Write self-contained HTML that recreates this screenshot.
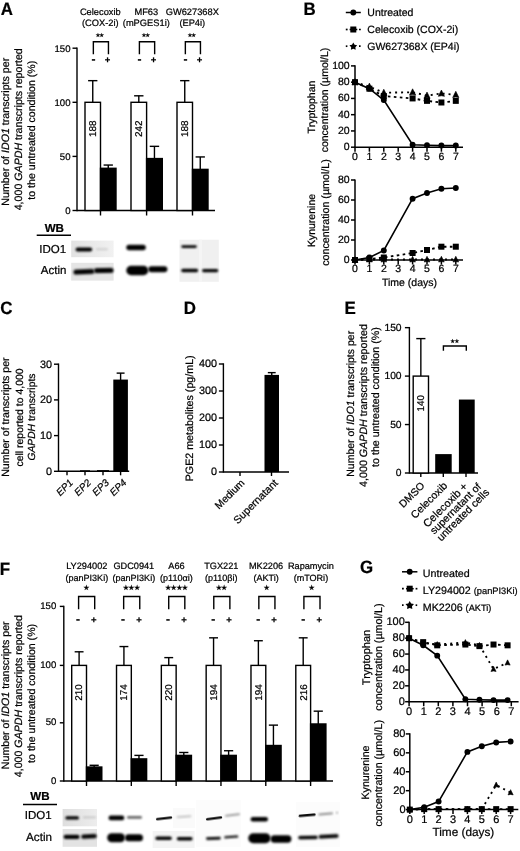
<!DOCTYPE html>
<html lang="en"><head><meta charset="utf-8"><title>Figure</title>
<style>
html,body{margin:0;padding:0;background:#fff;}
body{width:520px;height:851px;overflow:hidden;}
svg{display:block;font-family:'Liberation Sans', sans-serif;}
text{stroke:#000;stroke-width:0.22px;}
</style></head><body>
<svg width="520" height="851" viewBox="0 0 520 851" text-rendering="geometricPrecision">
<defs>
<filter id="bB" x="-20%" y="-100%" width="140%" height="300%"><feGaussianBlur stdDeviation="0.8"/></filter>
<filter id="bA" x="-20%" y="-100%" width="140%" height="300%"><feGaussianBlur stdDeviation="0.55"/></filter>
<filter id="bC" x="-20%" y="-100%" width="140%" height="300%"><feGaussianBlur stdDeviation="1.1"/></filter>
<linearGradient id="gLY" x1="0" x2="1" y1="0" y2="0"><stop offset="0" stop-color="#dedede"/><stop offset="1" stop-color="#ededed"/></linearGradient>
<linearGradient id="gA1" x1="0" x2="1" y1="0" y2="0"><stop offset="0" stop-color="#e2e2e2"/><stop offset="1" stop-color="#f1f1f1"/></linearGradient>
</defs>
<rect width="520" height="851" fill="#fff"/>
<g id="blots">
<rect x="71.2" y="240.6" width="42.4" height="16.6" fill="url(#gA1)"/>
<rect x="71.2" y="262.8" width="42.4" height="17.8" fill="#e5e5e5" />
<rect x="75.6" y="247.4" width="16.60000000000001" height="4.2" rx="2.1" fill="#000" opacity="1" filter="url(#bB)"/>
<rect x="96" y="248.2" width="12" height="2" rx="1.0" fill="#000" opacity="0.13" filter="url(#bB)"/>
<rect x="73.4" y="269.3" width="21.0" height="5" rx="2.5" fill="#000" opacity="1" filter="url(#bB)" transform="rotate(-2.5 83.9 271.8)"/>
<rect x="94" y="268.1" width="19.599999999999994" height="5" rx="2.5" fill="#000" opacity="1" filter="url(#bB)" transform="rotate(-1 103.8 270.6)"/>
<rect x="126.3" y="244.8" width="19.500000000000014" height="5.4" rx="2.7" fill="#000" opacity="1" filter="url(#bB)"/>
<rect x="126.3" y="265.8" width="22.000000000000014" height="9.4" rx="4.7" fill="#000" opacity="1" filter="url(#bC)"/>
<rect x="148.3" y="266.3" width="19.099999999999994" height="6" rx="3.0" fill="#000" opacity="1" filter="url(#bB)"/>
<rect x="179.5" y="239.7" width="39.3" height="42.1" fill="#f0f0f0" />
<rect x="199" y="239.7" width="3" height="42.1" fill="#f5f5f5" />
<rect x="181.3" y="245.2" width="15.5" height="2.8" rx="1.4" fill="#000" opacity="1" filter="url(#bB)"/>
<rect x="181.2" y="268.8" width="17.0" height="3.4" rx="1.7" fill="#000" opacity="1" filter="url(#bB)"/>
<rect x="202" y="268.90000000000003" width="16.30000000000001" height="3.4" rx="1.7" fill="#000" opacity="1" filter="url(#bB)"/>
<rect x="62.6" y="809" width="34.4" height="17.3" fill="url(#gLY)"/>
<rect x="62.6" y="829" width="34.4" height="17.8" fill="#e3e3e3" />
<rect x="65.4" y="816.3" width="13.599999999999994" height="3.2" rx="1.6" fill="#000" opacity="1" filter="url(#bB)"/>
<rect x="83" y="816.5" width="13" height="1.8" rx="0.9" fill="#000" opacity="0.16" filter="url(#bB)"/>
<rect x="63.6" y="834.8" width="15.999999999999993" height="4.2" rx="2.1" fill="#000" opacity="1" filter="url(#bB)"/>
<rect x="81.2" y="834.3" width="15.599999999999994" height="4.2" rx="2.1" fill="#000" opacity="1" filter="url(#bB)" transform="rotate(-3 89.0 836.4)"/>
<rect x="108.5" y="815.6" width="15.799999999999997" height="4.6" rx="2.3" fill="#000" opacity="1" filter="url(#bB)"/>
<rect x="127" y="816.1" width="15" height="2.6" rx="1.3" fill="#000" opacity="0.6" filter="url(#bB)"/>
<rect x="107.2" y="833.3" width="17.799999999999997" height="9" rx="4.5" fill="#000" opacity="1" filter="url(#bC)"/>
<rect x="125" y="834.3" width="18" height="7" rx="3.5" fill="#000" opacity="1" filter="url(#bC)"/>
<rect x="152.6" y="831" width="42" height="17" fill="#f4f4f4" />
<rect x="173" y="808" width="22" height="20" fill="#fafafa" />
<rect x="156" y="817.25" width="16.19999999999999" height="2.3" rx="1.15" fill="#000" opacity="1" filter="url(#bA)" transform="rotate(-6.5 164.1 818.4)"/>
<rect x="176.5" y="815.8000000000001" width="15.0" height="1.6" rx="0.8" fill="#000" opacity="0.25" filter="url(#bB)" transform="rotate(-4 184.0 816.6)"/>
<rect x="155.4" y="836.5" width="16.400000000000006" height="3.4" rx="1.7" fill="#000" opacity="1" filter="url(#bB)"/>
<rect x="176.8" y="837.0" width="15.799999999999983" height="3.4" rx="1.7" fill="#000" opacity="1" filter="url(#bB)"/>
<rect x="196" y="800" width="45" height="47" fill="#fcfcfc" />
<rect x="206" y="817.3" width="16.19999999999999" height="2.2" rx="1.1" fill="#000" opacity="1" filter="url(#bA)" transform="rotate(-7.5 214.1 818.4)"/>
<rect x="225" y="814.25" width="15" height="1.5" rx="0.75" fill="#000" opacity="0.5" filter="url(#bB)" transform="rotate(-7 232.5 815)"/>
<rect x="206" y="836.9" width="14.800000000000011" height="2.8" rx="1.4" fill="#000" opacity="1" filter="url(#bB)" transform="rotate(-2 213.4 838.3)"/>
<rect x="224.2" y="835.6999999999999" width="14.100000000000023" height="2.4" rx="1.2" fill="#000" opacity="0.95" filter="url(#bB)" transform="rotate(-4 231.25 836.9)"/>
<rect x="250.6" y="817.0999999999999" width="17.400000000000006" height="4.4" rx="2.2" fill="#000" opacity="1" filter="url(#bB)"/>
<rect x="248.3" y="833.3" width="22.30000000000001" height="10" rx="5.0" fill="#000" opacity="1" filter="url(#bC)"/>
<rect x="270.6" y="835.3" width="20.799999999999955" height="7.4" rx="3.7" fill="#000" opacity="1" filter="url(#bC)"/>
<rect x="296" y="802" width="44" height="45" fill="#fcfcfc" />
<rect x="298.7" y="814.0999999999999" width="16.900000000000034" height="2.4" rx="1.2" fill="#000" opacity="0.95" filter="url(#bA)" transform="rotate(-5 307.15 815.3)"/>
<rect x="318.3" y="812.9499999999999" width="14.699999999999989" height="1.7" rx="0.85" fill="#000" opacity="0.5" filter="url(#bB)" transform="rotate(-5 325.65 813.8)"/>
<rect x="336" y="812.0" width="2" height="1.6" rx="0.8" fill="#000" opacity="0.5" filter="url(#bB)"/>
<rect x="298.2" y="835.7" width="19.600000000000023" height="3.6" rx="1.8" fill="#000" opacity="1" filter="url(#bB)" transform="rotate(-1 308.0 837.5)"/>
<rect x="318.6" y="834.6" width="20.0" height="3.6" rx="1.8" fill="#000" opacity="1" filter="url(#bB)" transform="rotate(-3 328.6 836.4)"/>
</g>
<g id="plots" fill="#000">
<text transform="translate(0.7 14.7) scale(1 1.06)" font-size="16.9" font-weight="bold" stroke-width="0">A</text>
<line x1="77" y1="47.499999999999986" x2="77" y2="211.2" stroke="#000" stroke-width="1.4"/>
<line x1="77" y1="210.5" x2="215" y2="210.5" stroke="#000" stroke-width="1.4"/>
<line x1="72.5" y1="210.5" x2="77" y2="210.5" stroke="#000" stroke-width="1.4"/>
<text x="70.5" y="213.8" font-size="9.6" text-anchor="end">0</text>
<line x1="72.5" y1="156.4" x2="77" y2="156.4" stroke="#000" stroke-width="1.4"/>
<text x="70.5" y="159.70000000000002" font-size="9.6" text-anchor="end">50</text>
<line x1="72.5" y1="102.3" x2="77" y2="102.3" stroke="#000" stroke-width="1.4"/>
<text x="70.5" y="105.6" font-size="9.6" text-anchor="end">100</text>
<line x1="72.5" y1="48.19999999999999" x2="77" y2="48.19999999999999" stroke="#000" stroke-width="1.4"/>
<text x="70.5" y="51.499999999999986" font-size="9.6" text-anchor="end">150</text>
<line x1="92.75" y1="80.66" x2="92.75" y2="102.3" stroke="#000" stroke-width="1.4"/>
<line x1="88.1" y1="80.66" x2="97.4" y2="80.66" stroke="#000" stroke-width="1.4"/>
<rect x="85" y="102.3" width="15.5" height="108.2" fill="#fff" stroke="#000" stroke-width="1.4" />
<line x1="108.25" y1="165.05599999999998" x2="108.25" y2="168.302" stroke="#000" stroke-width="1.4"/>
<line x1="103.6" y1="165.05599999999998" x2="112.9" y2="165.05599999999998" stroke="#000" stroke-width="1.4"/>
<rect x="99.8" y="167.602" width="16.9" height="42.89800000000001" fill="#000" />
<line x1="100.5" y1="210.5" x2="100.5" y2="215.5" stroke="#000" stroke-width="1.4"/>
<text x="96.15" y="128.7" font-size="9.9" text-anchor="middle" transform="rotate(-90 96.15 128.7)">188</text>
<path d="M93.35 54.3V41.7H108.45V54.3" fill="none" stroke="#000" stroke-width="1.4"/>
<text x="93.45" y="63.3" font-size="12" text-anchor="middle" font-weight="bold">-</text>
<text x="107.45" y="63" font-size="9.5" text-anchor="middle" font-weight="bold">+</text>
<text x="99.8" y="36.58" font-size="5.5" text-anchor="middle" font-family="'DejaVu Sans', sans-serif" textLength="8.8" lengthAdjust="spacing">★★</text>
<text x="100.3" y="15" font-size="9.3" text-anchor="middle">Celecoxib</text>
<text x="100.3" y="26.2" font-size="9.3" text-anchor="middle">(COX-2i)</text>
<line x1="138.8" y1="95.80799999999999" x2="138.8" y2="102.3" stroke="#000" stroke-width="1.4"/>
<line x1="134.12" y1="95.80799999999999" x2="143.48000000000002" y2="95.80799999999999" stroke="#000" stroke-width="1.4"/>
<rect x="131" y="102.3" width="15.599999999999994" height="108.2" fill="#fff" stroke="#000" stroke-width="1.4" />
<line x1="154.45" y1="146.3374" x2="154.45" y2="158.564" stroke="#000" stroke-width="1.4"/>
<line x1="149.73999999999998" y1="146.3374" x2="159.16" y2="146.3374" stroke="#000" stroke-width="1.4"/>
<rect x="145.9" y="157.864" width="17.100000000000016" height="52.63600000000001" fill="#000" />
<line x1="146.6" y1="210.5" x2="146.6" y2="215.5" stroke="#000" stroke-width="1.4"/>
<text x="142.20000000000002" y="128.7" font-size="9.9" text-anchor="middle" transform="rotate(-90 142.20000000000002 128.7)">242</text>
<path d="M139.4 54.3V41.7H154.64999999999998V54.3" fill="none" stroke="#000" stroke-width="1.4"/>
<text x="139.5" y="63.3" font-size="12" text-anchor="middle" font-weight="bold">-</text>
<text x="153.64999999999998" y="63" font-size="9.5" text-anchor="middle" font-weight="bold">+</text>
<text x="145.9" y="36.58" font-size="5.5" text-anchor="middle" font-family="'DejaVu Sans', sans-serif" textLength="8.8" lengthAdjust="spacing">★★</text>
<text x="146.3" y="15" font-size="9.3" text-anchor="middle">MF63</text>
<text x="146.3" y="26.2" font-size="9.3" text-anchor="middle">(mPGES1i)</text>
<line x1="184.75" y1="80.66" x2="184.75" y2="102.3" stroke="#000" stroke-width="1.4"/>
<line x1="180.1" y1="80.66" x2="189.4" y2="80.66" stroke="#000" stroke-width="1.4"/>
<rect x="177" y="102.3" width="15.5" height="108.2" fill="#fff" stroke="#000" stroke-width="1.4" />
<line x1="200.25" y1="156.941" x2="200.25" y2="169.38400000000001" stroke="#000" stroke-width="1.4"/>
<line x1="195.6" y1="156.941" x2="204.9" y2="156.941" stroke="#000" stroke-width="1.4"/>
<rect x="191.8" y="168.68400000000003" width="16.9" height="41.81599999999999" fill="#000" />
<line x1="192.5" y1="210.5" x2="192.5" y2="215.5" stroke="#000" stroke-width="1.4"/>
<text x="188.15" y="128.7" font-size="9.9" text-anchor="middle" transform="rotate(-90 188.15 128.7)">188</text>
<path d="M185.35 54.3V41.7H200.45V54.3" fill="none" stroke="#000" stroke-width="1.4"/>
<text x="185.45" y="63.3" font-size="12" text-anchor="middle" font-weight="bold">-</text>
<text x="199.45" y="63" font-size="9.5" text-anchor="middle" font-weight="bold">+</text>
<text x="191.8" y="36.58" font-size="5.5" text-anchor="middle" font-family="'DejaVu Sans', sans-serif" textLength="8.8" lengthAdjust="spacing">★★</text>
<text x="192.3" y="15" font-size="9.3" text-anchor="middle">GW627368X</text>
<text x="192.3" y="26.2" font-size="9.3" text-anchor="middle">(EP4i)</text>
<text x="9.3" y="131.7" font-size="10.65" text-anchor="middle" transform="rotate(-90 9.3 131.7)">Number of <tspan font-style="italic">IDO1</tspan> transcripts per</text>
<text x="22" y="129.3" font-size="10.65" text-anchor="middle" transform="rotate(-90 22 129.3)">4,000 <tspan font-style="italic">GAPDH</tspan> transcripts reported</text>
<text x="34.8" y="130.2" font-size="10.6" text-anchor="middle" transform="rotate(-90 34.8 130.2)">to the untreated condition (%)</text>
<text x="54.3" y="231.8" font-size="11.6" text-anchor="middle" font-weight="bold">WB</text>
<line x1="36.7" y1="235.2" x2="71" y2="235.2" stroke="#000" stroke-width="1.5"/>
<text x="39.3" y="252.6" font-size="11.5">IDO1</text>
<text x="40.8" y="274.2" font-size="11.5">Actin</text>
<text transform="translate(303.6 14.7) scale(1 1.06)" font-size="16.9" font-weight="bold" stroke-width="0">B</text>
<line x1="345.8" y1="12.5" x2="360.8" y2="12.5" stroke="#000" stroke-width="1.5"/>
<circle cx="353.3" cy="12.5" r="2.95" fill="#000"/>
<text x="367.3" y="16.3" font-size="10.5">Untreated</text>
<line x1="345.8" y1="29.5" x2="347.6" y2="29.5" stroke="#000" stroke-width="1.7"/>
<line x1="359.0" y1="29.5" x2="360.8" y2="29.5" stroke="#000" stroke-width="1.7"/>
<line x1="349.6" y1="29.5" x2="357.3" y2="29.5" stroke="#000" stroke-width="1.5"/>
<rect x="350.3" y="26.5" width="6.0" height="6.0" fill="#000"/>
<text x="367.3" y="33.2" font-size="10.55">Celecoxib (COX-2i)</text>
<line x1="345.8" y1="46.2" x2="347.40000000000003" y2="46.2" stroke="#000" stroke-width="1.7"/>
<line x1="359.0" y1="46.2" x2="360.6" y2="46.2" stroke="#000" stroke-width="1.7"/>
<path d="M353.30 42.44L354.59 44.73L357.16 45.25L355.39 47.18L355.69 49.78L353.30 48.69L350.91 49.78L351.21 47.18L349.44 45.25L352.01 44.73Z" fill="#000"/>
<text x="367.3" y="49.8" font-size="10.5">GW627368X (EP4i)</text>
<line x1="355" y1="65.3" x2="355" y2="147.79999999999998" stroke="#000" stroke-width="1.5"/>
<line x1="354.5" y1="147.2" x2="463" y2="147.2" stroke="#000" stroke-width="1.5"/>
<line x1="351" y1="147.2" x2="355" y2="147.2" stroke="#000" stroke-width="1.5"/>
<text x="349.7" y="150.07999999999998" font-size="10.5" text-anchor="end">0</text>
<line x1="351" y1="130.94" x2="355" y2="130.94" stroke="#000" stroke-width="1.5"/>
<text x="349.7" y="133.82" font-size="10.5" text-anchor="end">20</text>
<line x1="351" y1="114.67999999999999" x2="355" y2="114.67999999999999" stroke="#000" stroke-width="1.5"/>
<text x="349.7" y="117.55999999999999" font-size="10.5" text-anchor="end">40</text>
<line x1="351" y1="98.41999999999999" x2="355" y2="98.41999999999999" stroke="#000" stroke-width="1.5"/>
<text x="349.7" y="101.29999999999998" font-size="10.5" text-anchor="end">60</text>
<line x1="351" y1="82.16" x2="355" y2="82.16" stroke="#000" stroke-width="1.5"/>
<text x="349.7" y="85.03999999999999" font-size="10.5" text-anchor="end">80</text>
<line x1="351" y1="65.89999999999999" x2="355" y2="65.89999999999999" stroke="#000" stroke-width="1.5"/>
<text x="349.7" y="68.77999999999999" font-size="10.5" text-anchor="end">100</text>
<line x1="355.0" y1="147.2" x2="355.0" y2="151.7" stroke="#000" stroke-width="1.5"/>
<text x="355.0" y="160.325" font-size="10.5" text-anchor="middle">0</text>
<line x1="369.4" y1="147.2" x2="369.4" y2="151.7" stroke="#000" stroke-width="1.5"/>
<text x="369.4" y="160.325" font-size="10.5" text-anchor="middle">1</text>
<line x1="383.8" y1="147.2" x2="383.8" y2="151.7" stroke="#000" stroke-width="1.5"/>
<text x="383.8" y="160.325" font-size="10.5" text-anchor="middle">2</text>
<line x1="398.2" y1="147.2" x2="398.2" y2="151.7" stroke="#000" stroke-width="1.5"/>
<text x="398.2" y="160.325" font-size="10.5" text-anchor="middle">3</text>
<line x1="412.6" y1="147.2" x2="412.6" y2="151.7" stroke="#000" stroke-width="1.5"/>
<text x="412.6" y="160.325" font-size="10.5" text-anchor="middle">4</text>
<line x1="427.0" y1="147.2" x2="427.0" y2="151.7" stroke="#000" stroke-width="1.5"/>
<text x="427.0" y="160.325" font-size="10.5" text-anchor="middle">5</text>
<line x1="441.4" y1="147.2" x2="441.4" y2="151.7" stroke="#000" stroke-width="1.5"/>
<text x="441.4" y="160.325" font-size="10.5" text-anchor="middle">6</text>
<line x1="455.8" y1="147.2" x2="455.8" y2="151.7" stroke="#000" stroke-width="1.5"/>
<text x="455.8" y="160.325" font-size="10.5" text-anchor="middle">7</text>
<path d="M355.0 82.2 L369.4 88.7 L383.8 100.0 L412.6 144.8 L427.0 145.2 L441.4 145.6 L455.8 145.6" fill="none" stroke="#000" stroke-width="1.6"/>
<circle cx="355.0" cy="82.16" r="2.95" fill="#000"/>
<circle cx="369.4" cy="88.66399999999999" r="2.95" fill="#000"/>
<circle cx="383.8" cy="100.04599999999999" r="2.95" fill="#000"/>
<circle cx="412.6" cy="144.761" r="2.95" fill="#000"/>
<circle cx="427.0" cy="145.1675" r="2.95" fill="#000"/>
<circle cx="441.4" cy="145.57399999999998" r="2.95" fill="#000"/>
<circle cx="455.8" cy="145.57399999999998" r="2.95" fill="#000"/>
<path d="M355.0 82.2 L369.4 86.6 L383.8 92.7 L412.6 92.3 L427.0 95.6 L441.4 93.5 L455.8 94.8" fill="none" stroke="#000" stroke-width="1.85" stroke-dasharray="2 4"/>
<path d="M355.00 78.65L358.10 84.93L355.00 84.36L351.90 84.93Z" fill="#000" stroke="#000" stroke-width="0.6" stroke-linejoin="round"/>
<path d="M369.40 83.12L372.50 89.41L369.40 88.83L366.30 89.41Z" fill="#000" stroke="#000" stroke-width="0.6" stroke-linejoin="round"/>
<path d="M383.80 89.22L386.90 95.50L383.80 94.93L380.70 95.50Z" fill="#000" stroke="#000" stroke-width="0.6" stroke-linejoin="round"/>
<path d="M412.60 88.81L415.70 95.10L412.60 94.53L409.50 95.10Z" fill="#000" stroke="#000" stroke-width="0.6" stroke-linejoin="round"/>
<path d="M427.00 92.07L430.10 98.35L427.00 97.78L423.90 98.35Z" fill="#000" stroke="#000" stroke-width="0.6" stroke-linejoin="round"/>
<path d="M441.40 90.03L444.50 96.32L441.40 95.75L438.30 96.32Z" fill="#000" stroke="#000" stroke-width="0.6" stroke-linejoin="round"/>
<path d="M455.80 91.25L458.90 97.54L455.80 96.96L452.70 97.54Z" fill="#000" stroke="#000" stroke-width="0.6" stroke-linejoin="round"/>
<path d="M355.0 82.2 L369.4 88.7 L383.8 96.0 L412.6 98.4 L427.0 100.9 L441.4 102.5 L455.8 100.9" fill="none" stroke="#000" stroke-width="1.85" stroke-dasharray="2.6 3.4"/>
<rect x="352.0" y="79.16" width="6.0" height="6.0" fill="#000"/>
<rect x="366.4" y="85.66399999999999" width="6.0" height="6.0" fill="#000"/>
<rect x="380.8" y="92.981" width="6.0" height="6.0" fill="#000"/>
<rect x="409.6" y="95.41999999999999" width="6.0" height="6.0" fill="#000"/>
<rect x="424.0" y="97.859" width="6.0" height="6.0" fill="#000"/>
<rect x="438.4" y="99.48499999999999" width="6.0" height="6.0" fill="#000"/>
<rect x="452.8" y="97.859" width="6.0" height="6.0" fill="#000"/>
<line x1="355" y1="179.4" x2="355" y2="260.6" stroke="#000" stroke-width="1.5"/>
<line x1="354.5" y1="260" x2="463" y2="260" stroke="#000" stroke-width="1.5"/>
<line x1="351" y1="260.0" x2="355" y2="260.0" stroke="#000" stroke-width="1.5"/>
<text x="349.7" y="262.88" font-size="10.5" text-anchor="end">0</text>
<line x1="351" y1="240.0" x2="355" y2="240.0" stroke="#000" stroke-width="1.5"/>
<text x="349.7" y="242.88" font-size="10.5" text-anchor="end">20</text>
<line x1="351" y1="220.0" x2="355" y2="220.0" stroke="#000" stroke-width="1.5"/>
<text x="349.7" y="222.88" font-size="10.5" text-anchor="end">40</text>
<line x1="351" y1="200.0" x2="355" y2="200.0" stroke="#000" stroke-width="1.5"/>
<text x="349.7" y="202.88" font-size="10.5" text-anchor="end">60</text>
<line x1="351" y1="180.0" x2="355" y2="180.0" stroke="#000" stroke-width="1.5"/>
<text x="349.7" y="182.88" font-size="10.5" text-anchor="end">80</text>
<line x1="355.0" y1="260" x2="355.0" y2="264.5" stroke="#000" stroke-width="1.5"/>
<text x="355.0" y="272.4" font-size="10.5" text-anchor="middle">0</text>
<line x1="369.4" y1="260" x2="369.4" y2="264.5" stroke="#000" stroke-width="1.5"/>
<text x="369.4" y="272.4" font-size="10.5" text-anchor="middle">1</text>
<line x1="383.8" y1="260" x2="383.8" y2="264.5" stroke="#000" stroke-width="1.5"/>
<text x="383.8" y="272.4" font-size="10.5" text-anchor="middle">2</text>
<line x1="398.2" y1="260" x2="398.2" y2="264.5" stroke="#000" stroke-width="1.5"/>
<text x="398.2" y="272.4" font-size="10.5" text-anchor="middle">3</text>
<line x1="412.6" y1="260" x2="412.6" y2="264.5" stroke="#000" stroke-width="1.5"/>
<text x="412.6" y="272.4" font-size="10.5" text-anchor="middle">4</text>
<line x1="427.0" y1="260" x2="427.0" y2="264.5" stroke="#000" stroke-width="1.5"/>
<text x="427.0" y="272.4" font-size="10.5" text-anchor="middle">5</text>
<line x1="441.4" y1="260" x2="441.4" y2="264.5" stroke="#000" stroke-width="1.5"/>
<text x="441.4" y="272.4" font-size="10.5" text-anchor="middle">6</text>
<line x1="455.8" y1="260" x2="455.8" y2="264.5" stroke="#000" stroke-width="1.5"/>
<text x="455.8" y="272.4" font-size="10.5" text-anchor="middle">7</text>
<path d="M355.0 260.0 L369.4 257.5 L383.8 250.5 L412.6 198.7 L427.0 193.0 L441.4 188.7 L455.8 188.0" fill="none" stroke="#000" stroke-width="1.6"/>
<circle cx="355.0" cy="260.0" r="2.95" fill="#000"/>
<circle cx="369.4" cy="257.5" r="2.95" fill="#000"/>
<circle cx="383.8" cy="250.5" r="2.95" fill="#000"/>
<circle cx="412.6" cy="198.7" r="2.95" fill="#000"/>
<circle cx="427.0" cy="193.0" r="2.95" fill="#000"/>
<circle cx="441.4" cy="188.7" r="2.95" fill="#000"/>
<circle cx="455.8" cy="188.0" r="2.95" fill="#000"/>
<path d="M355.0 260.0 L369.4 259.5 L383.8 259.5 L412.6 259.5 L427.0 259.5 L441.4 259.5 L455.8 259.5" fill="none" stroke="#000" stroke-width="1.85" stroke-dasharray="2 4"/>
<path d="M355.00 256.78L357.84 262.54L355.00 262.02L352.16 262.54Z" fill="#000" stroke="#000" stroke-width="0.6" stroke-linejoin="round"/>
<path d="M369.40 256.28L372.24 262.04L369.40 261.52L366.56 262.04Z" fill="#000" stroke="#000" stroke-width="0.6" stroke-linejoin="round"/>
<path d="M383.80 256.28L386.64 262.04L383.80 261.52L380.96 262.04Z" fill="#000" stroke="#000" stroke-width="0.6" stroke-linejoin="round"/>
<path d="M412.60 256.28L415.44 262.04L412.60 261.52L409.76 262.04Z" fill="#000" stroke="#000" stroke-width="0.6" stroke-linejoin="round"/>
<path d="M427.00 256.28L429.84 262.04L427.00 261.52L424.16 262.04Z" fill="#000" stroke="#000" stroke-width="0.6" stroke-linejoin="round"/>
<path d="M441.40 256.28L444.24 262.04L441.40 261.52L438.56 262.04Z" fill="#000" stroke="#000" stroke-width="0.6" stroke-linejoin="round"/>
<path d="M455.80 256.28L458.64 262.04L455.80 261.52L452.96 262.04Z" fill="#000" stroke="#000" stroke-width="0.6" stroke-linejoin="round"/>
<path d="M355.0 260.0 L369.4 259.0 L383.8 257.5 L412.6 253.0 L427.0 250.0 L441.4 246.7 L455.8 246.7" fill="none" stroke="#000" stroke-width="1.85" stroke-dasharray="2.6 3.4"/>
<rect x="352.0" y="257.0" width="6.0" height="6.0" fill="#000"/>
<rect x="366.4" y="256.0" width="6.0" height="6.0" fill="#000"/>
<rect x="380.8" y="254.5" width="6.0" height="6.0" fill="#000"/>
<rect x="409.6" y="250.0" width="6.0" height="6.0" fill="#000"/>
<rect x="424.0" y="247.0" width="6.0" height="6.0" fill="#000"/>
<rect x="438.4" y="243.7" width="6.0" height="6.0" fill="#000"/>
<rect x="452.8" y="243.7" width="6.0" height="6.0" fill="#000"/>
<text x="409.5" y="285.7" font-size="10.5" text-anchor="middle">Time (days)</text>
<text x="315.3" y="107" font-size="10.5" text-anchor="middle" transform="rotate(-90 315.3 107)">Tryptophan</text>
<text x="328.4" y="100" font-size="10.5" text-anchor="middle" transform="rotate(-90 328.4 100)">concentration (µmol/L)</text>
<text x="315.3" y="220.5" font-size="10.5" text-anchor="middle" transform="rotate(-90 315.3 220.5)">Kynurenine</text>
<text x="329" y="212.5" font-size="10.7" text-anchor="middle" transform="rotate(-90 329 212.5)">concentration (µmol/L)</text>
<text transform="translate(0.3 313.5) scale(1 1.06)" font-size="16.9" font-weight="bold" stroke-width="0">C</text>
<line x1="58.5" y1="363.50000000000006" x2="58.5" y2="472.0" stroke="#000" stroke-width="1.4"/>
<line x1="58.5" y1="471.3" x2="129.2" y2="471.3" stroke="#000" stroke-width="1.4"/>
<line x1="54.0" y1="471.3" x2="58.5" y2="471.3" stroke="#000" stroke-width="1.4"/>
<text x="52.0" y="474.6" font-size="10.8" text-anchor="end">0</text>
<line x1="54.0" y1="435.6" x2="58.5" y2="435.6" stroke="#000" stroke-width="1.4"/>
<text x="52.0" y="438.90000000000003" font-size="10.8" text-anchor="end">10</text>
<line x1="54.0" y1="399.90000000000003" x2="58.5" y2="399.90000000000003" stroke="#000" stroke-width="1.4"/>
<text x="52.0" y="403.20000000000005" font-size="10.8" text-anchor="end">20</text>
<line x1="54.0" y1="364.20000000000005" x2="58.5" y2="364.20000000000005" stroke="#000" stroke-width="1.4"/>
<text x="52.0" y="367.50000000000006" font-size="10.8" text-anchor="end">30</text>
<line x1="67" y1="471.3" x2="67" y2="475.3" stroke="#000" stroke-width="1.4"/>
<text x="73.6" y="483.2" font-size="10" text-anchor="end" font-style="italic" transform="rotate(-45 73.6 483.2)">EP1</text>
<line x1="85" y1="471.3" x2="85" y2="475.3" stroke="#000" stroke-width="1.4"/>
<text x="91.6" y="483.2" font-size="10" text-anchor="end" font-style="italic" transform="rotate(-45 91.6 483.2)">EP2</text>
<line x1="103" y1="471.3" x2="103" y2="475.3" stroke="#000" stroke-width="1.4"/>
<text x="109.6" y="483.2" font-size="10" text-anchor="end" font-style="italic" transform="rotate(-45 109.6 483.2)">EP3</text>
<line x1="120.6" y1="471.3" x2="120.6" y2="475.3" stroke="#000" stroke-width="1.4"/>
<text x="127.19999999999999" y="483.2" font-size="10" text-anchor="end" font-style="italic" transform="rotate(-45 127.19999999999999 483.2)">EP4</text>
<line x1="120.6" y1="373.125" x2="120.6" y2="380.265" stroke="#000" stroke-width="1.4"/>
<line x1="116.63999999999999" y1="373.125" x2="124.56" y2="373.125" stroke="#000" stroke-width="1.4"/>
<rect x="113.3" y="379.565" width="14.600000000000003" height="91.73500000000003" fill="#000" />
<rect x="80" y="470.3" width="10" height="1" fill="#000" />
<rect x="97" y="470.1" width="12" height="1.2" fill="#000" />
<text x="9.5" y="417.1" font-size="10.6" text-anchor="middle" transform="rotate(-90 9.5 417.1)">Number of transcripts per</text>
<text x="22.8" y="417.5" font-size="10.45" text-anchor="middle" transform="rotate(-90 22.8 417.5)">cell reported to 4,000</text>
<text x="34.9" y="417.1" font-size="10.3" text-anchor="middle" transform="rotate(-90 34.9 417.1)"><tspan font-style="italic">GAPDH</tspan> transcripts</text>
<text transform="translate(183.7 313.7) scale(1 1.06)" font-size="16.9" font-weight="bold" stroke-width="0">D</text>
<line x1="223.4" y1="363.3" x2="223.4" y2="472.7" stroke="#000" stroke-width="1.4"/>
<line x1="223.4" y1="472" x2="289" y2="472" stroke="#000" stroke-width="1.4"/>
<line x1="218.9" y1="472.0" x2="223.4" y2="472.0" stroke="#000" stroke-width="1.4"/>
<text x="216.9" y="475.3" font-size="10.8" text-anchor="end">0</text>
<line x1="218.9" y1="445.0" x2="223.4" y2="445.0" stroke="#000" stroke-width="1.4"/>
<text x="216.9" y="448.3" font-size="10.8" text-anchor="end">100</text>
<line x1="218.9" y1="418.0" x2="223.4" y2="418.0" stroke="#000" stroke-width="1.4"/>
<text x="216.9" y="421.3" font-size="10.8" text-anchor="end">200</text>
<line x1="218.9" y1="391.0" x2="223.4" y2="391.0" stroke="#000" stroke-width="1.4"/>
<text x="216.9" y="394.3" font-size="10.8" text-anchor="end">300</text>
<line x1="218.9" y1="364.0" x2="223.4" y2="364.0" stroke="#000" stroke-width="1.4"/>
<text x="216.9" y="367.3" font-size="10.8" text-anchor="end">400</text>
<line x1="240" y1="472" x2="240" y2="476" stroke="#000" stroke-width="1.4"/>
<text x="245.2" y="483.6" font-size="10.4" text-anchor="end" transform="rotate(-45 245.2 483.6)">Medium</text>
<line x1="271.5" y1="472" x2="271.5" y2="476" stroke="#000" stroke-width="1.4"/>
<text x="278.7" y="483.6" font-size="10.6" text-anchor="end" transform="rotate(-45 278.7 483.6)">Supernatant</text>
<line x1="271.75" y1="372.64" x2="271.75" y2="375.61" stroke="#000" stroke-width="1.4"/>
<line x1="267.82" y1="372.64" x2="275.68" y2="372.64" stroke="#000" stroke-width="1.4"/>
<rect x="264.5" y="374.91" width="14.500000000000023" height="97.08999999999999" fill="#000" />
<text x="193" y="418.3" font-size="10.7" text-anchor="middle" transform="rotate(-90 193 418.3)">PGE2 metabolites (pg/mL)</text>
<text transform="translate(344.5 313.8) scale(1 1.06)" font-size="16.9" font-weight="bold" stroke-width="0">E</text>
<line x1="409.4" y1="326.95" x2="409.4" y2="473.7" stroke="#000" stroke-width="1.4"/>
<line x1="409.4" y1="473" x2="478" y2="473" stroke="#000" stroke-width="1.4"/>
<line x1="404.9" y1="473.0" x2="409.4" y2="473.0" stroke="#000" stroke-width="1.4"/>
<text x="401.59999999999997" y="476.2" font-size="10.3" text-anchor="end">0</text>
<line x1="404.9" y1="424.55" x2="409.4" y2="424.55" stroke="#000" stroke-width="1.4"/>
<text x="401.59999999999997" y="427.75" font-size="10.3" text-anchor="end">50</text>
<line x1="404.9" y1="376.1" x2="409.4" y2="376.1" stroke="#000" stroke-width="1.4"/>
<text x="401.59999999999997" y="379.3" font-size="10.3" text-anchor="end">100</text>
<line x1="404.9" y1="327.65" x2="409.4" y2="327.65" stroke="#000" stroke-width="1.4"/>
<text x="401.59999999999997" y="330.84999999999997" font-size="10.3" text-anchor="end">150</text>
<line x1="420.85" y1="338.5997" x2="420.85" y2="376.1" stroke="#000" stroke-width="1.4"/>
<line x1="416.26" y1="338.5997" x2="425.44000000000005" y2="338.5997" stroke="#000" stroke-width="1.4"/>
<rect x="413.2" y="376.1" width="15.300000000000011" height="96.89999999999998" fill="#fff" stroke="#000" stroke-width="1.4" />
<text x="424.3" y="403.2" font-size="9.9" text-anchor="middle" transform="rotate(-90 424.3 403.2)">140</text>
<rect x="435.2" y="454.1045" width="16.5" height="18.895500000000027" fill="#000" />
<rect x="458.9" y="399.5498" width="15.8" height="73.4502" fill="#000" />
<path d="M443.4 350.8V346H466.3V350.8" fill="none" stroke="#000" stroke-width="1.4"/>
<text x="454.8" y="342.74" font-size="5.4" text-anchor="middle" font-family="'DejaVu Sans', sans-serif" textLength="9.2" lengthAdjust="spacing">★★</text>
<line x1="420.8" y1="473" x2="420.8" y2="477" stroke="#000" stroke-width="1.4"/>
<line x1="443.3" y1="473" x2="443.3" y2="477" stroke="#000" stroke-width="1.4"/>
<line x1="466" y1="473" x2="466" y2="477" stroke="#000" stroke-width="1.4"/>
<text x="425.3" y="486.3" font-size="10.4" text-anchor="end" transform="rotate(-45 425.3 486.3)">DMSO</text>
<text x="448" y="486.3" font-size="10.6" text-anchor="end" transform="rotate(-45 448 486.3)">Celecoxib</text>
<g transform="translate(468 480) rotate(-45)" font-size="11"><text x="-62.6" y="5.3">Celecoxib +</text><text x="-62.6" y="15" font-size="10.5">supernatant of</text><text x="-62.6" y="24.7" font-size="10.6">untreated cells</text></g>
<text x="353.7" y="403.8" font-size="10.5" text-anchor="middle" transform="rotate(-90 353.7 403.8)">Number of <tspan font-style="italic">IDO1</tspan> transcripts per</text>
<text x="367.1" y="405.5" font-size="10.7" text-anchor="middle" transform="rotate(-90 367.1 405.5)">4,000 <tspan font-style="italic">GAPDH</tspan> transcripts reported</text>
<text x="379.2" y="397.1" font-size="10.65" text-anchor="middle" transform="rotate(-90 379.2 397.1)">to the untreated condition (%)</text>
<text transform="translate(-0.2 574.9) scale(1 1.06)" font-size="16.9" font-weight="bold" stroke-width="0">F</text>
<line x1="63.8" y1="605.6999999999999" x2="63.8" y2="781.7" stroke="#000" stroke-width="1.4"/>
<line x1="63.8" y1="781.0" x2="333" y2="781.0" stroke="#000" stroke-width="1.4"/>
<line x1="59.8" y1="781.0" x2="63.8" y2="781.0" stroke="#000" stroke-width="1.4"/>
<text x="56.3" y="783.6" font-size="9.6" text-anchor="end">0</text>
<line x1="59.8" y1="722.8" x2="63.8" y2="722.8" stroke="#000" stroke-width="1.4"/>
<text x="56.3" y="725.4" font-size="9.6" text-anchor="end">50</text>
<line x1="59.8" y1="665.4" x2="63.8" y2="665.4" stroke="#000" stroke-width="1.4"/>
<text x="56.3" y="668.0" font-size="9.6" text-anchor="end">100</text>
<line x1="59.8" y1="606.4" x2="63.8" y2="606.4" stroke="#000" stroke-width="1.4"/>
<text x="56.3" y="609.0" font-size="9.6" text-anchor="end">150</text>
<line x1="79.1" y1="651.796" x2="79.1" y2="665.4" stroke="#000" stroke-width="1.4"/>
<line x1="74.66" y1="651.796" x2="83.53999999999999" y2="651.796" stroke="#000" stroke-width="1.4"/>
<rect x="71.7" y="665.4" width="14.799999999999997" height="115.60000000000002" fill="#fff" stroke="#000" stroke-width="1.4" />
<line x1="94.15" y1="765.2860000000001" x2="94.15" y2="767.032" stroke="#000" stroke-width="1.4"/>
<line x1="89.56" y1="765.2860000000001" x2="98.74000000000001" y2="765.2860000000001" stroke="#000" stroke-width="1.4"/>
<rect x="85.8" y="766.332" width="16.699999999999996" height="14.66799999999996" fill="#000" />
<line x1="86.5" y1="781.0" x2="86.5" y2="786.0" stroke="#000" stroke-width="1.4"/>
<text x="82.5" y="692.4" font-size="9.9" text-anchor="middle" transform="rotate(-90 82.5 692.4)">210</text>
<path d="M78.6 609.2V596.5H94.69999999999999V609.2" fill="none" stroke="#000" stroke-width="1.4"/>
<text x="78.0" y="623.3" font-size="12" text-anchor="middle" font-weight="bold">-</text>
<text x="93.89999999999999" y="623.2" font-size="9.5" text-anchor="middle" font-weight="bold">+</text>
<text x="86.39999999999999" y="590.12" font-size="7" text-anchor="middle" font-family="'DejaVu Sans', sans-serif" textLength="5.8" lengthAdjust="spacing">★</text>
<text x="86.8" y="568.7" font-size="9.2" text-anchor="middle">LY294002</text>
<text x="86.8" y="581.3" font-size="9.05" text-anchor="middle">(panPI3Ki)</text>
<line x1="123.92000000000002" y1="646.558" x2="123.92000000000002" y2="665.4" stroke="#000" stroke-width="1.4"/>
<line x1="119.48000000000002" y1="646.558" x2="128.36" y2="646.558" stroke="#000" stroke-width="1.4"/>
<rect x="116.52000000000001" y="665.4" width="14.800000000000011" height="115.60000000000002" fill="#fff" stroke="#000" stroke-width="1.4" />
<line x1="138.97000000000003" y1="755.392" x2="138.97000000000003" y2="758.884" stroke="#000" stroke-width="1.4"/>
<line x1="134.38000000000002" y1="755.392" x2="143.56000000000003" y2="755.392" stroke="#000" stroke-width="1.4"/>
<rect x="130.62000000000003" y="758.184" width="16.70000000000001" height="22.815999999999985" fill="#000" />
<line x1="131.32000000000002" y1="781.0" x2="131.32000000000002" y2="786.0" stroke="#000" stroke-width="1.4"/>
<text x="127.32000000000002" y="692.4" font-size="9.9" text-anchor="middle" transform="rotate(-90 127.32000000000002 692.4)">174</text>
<path d="M123.66 609.2V596.5H139.76V609.2" fill="none" stroke="#000" stroke-width="1.4"/>
<text x="123.06" y="623.3" font-size="12" text-anchor="middle" font-weight="bold">-</text>
<text x="138.96" y="623.2" font-size="9.5" text-anchor="middle" font-weight="bold">+</text>
<text x="131.46" y="590.12" font-size="7" text-anchor="middle" font-family="'DejaVu Sans', sans-serif" textLength="17.4" lengthAdjust="spacing">★★★</text>
<text x="133.82000000000002" y="568.7" font-size="9.2" text-anchor="middle">GDC0941</text>
<text x="133.82000000000002" y="581.3" font-size="9.05" text-anchor="middle">(panPI3Ki)</text>
<line x1="168.74" y1="657.616" x2="168.74" y2="665.4" stroke="#000" stroke-width="1.4"/>
<line x1="164.3" y1="657.616" x2="173.18" y2="657.616" stroke="#000" stroke-width="1.4"/>
<rect x="161.34" y="665.4" width="14.800000000000011" height="115.60000000000002" fill="#fff" stroke="#000" stroke-width="1.4" />
<line x1="183.79000000000002" y1="752.482" x2="183.79000000000002" y2="755.392" stroke="#000" stroke-width="1.4"/>
<line x1="179.20000000000002" y1="752.482" x2="188.38000000000002" y2="752.482" stroke="#000" stroke-width="1.4"/>
<rect x="175.44000000000003" y="754.692" width="16.70000000000001" height="26.307999999999947" fill="#000" />
<line x1="176.14000000000001" y1="781.0" x2="176.14000000000001" y2="786.0" stroke="#000" stroke-width="1.4"/>
<text x="172.14000000000001" y="692.4" font-size="9.9" text-anchor="middle" transform="rotate(-90 172.14000000000001 692.4)">220</text>
<path d="M168.72 609.2V596.5H184.82V609.2" fill="none" stroke="#000" stroke-width="1.4"/>
<text x="168.12" y="623.3" font-size="12" text-anchor="middle" font-weight="bold">-</text>
<text x="184.02" y="623.2" font-size="9.5" text-anchor="middle" font-weight="bold">+</text>
<text x="176.52" y="590.12" font-size="7" text-anchor="middle" font-family="'DejaVu Sans', sans-serif" textLength="23.2" lengthAdjust="spacing">★★★★</text>
<text x="176.44000000000003" y="568.7" font-size="9.2" text-anchor="middle">A66</text>
<text x="176.44000000000003" y="581.3" font-size="9.05" text-anchor="middle">(p110αi)</text>
<line x1="213.56000000000003" y1="637.828" x2="213.56000000000003" y2="665.4" stroke="#000" stroke-width="1.4"/>
<line x1="209.12000000000003" y1="637.828" x2="218.00000000000003" y2="637.828" stroke="#000" stroke-width="1.4"/>
<rect x="206.16000000000003" y="665.4" width="14.800000000000011" height="115.60000000000002" fill="#fff" stroke="#000" stroke-width="1.4" />
<line x1="228.61000000000004" y1="750.736" x2="228.61000000000004" y2="755.392" stroke="#000" stroke-width="1.4"/>
<line x1="224.02000000000004" y1="750.736" x2="233.20000000000005" y2="750.736" stroke="#000" stroke-width="1.4"/>
<rect x="220.26000000000005" y="754.692" width="16.70000000000001" height="26.307999999999947" fill="#000" />
<line x1="220.96000000000004" y1="781.0" x2="220.96000000000004" y2="786.0" stroke="#000" stroke-width="1.4"/>
<text x="216.96000000000004" y="692.4" font-size="9.9" text-anchor="middle" transform="rotate(-90 216.96000000000004 692.4)">194</text>
<path d="M213.78 609.2V596.5H229.88V609.2" fill="none" stroke="#000" stroke-width="1.4"/>
<text x="213.18" y="623.3" font-size="12" text-anchor="middle" font-weight="bold">-</text>
<text x="229.08" y="623.2" font-size="9.5" text-anchor="middle" font-weight="bold">+</text>
<text x="221.58" y="590.12" font-size="7" text-anchor="middle" font-family="'DejaVu Sans', sans-serif" textLength="11.6" lengthAdjust="spacing">★★</text>
<text x="221.26000000000005" y="568.7" font-size="9.2" text-anchor="middle">TGX221</text>
<text x="221.26000000000005" y="581.3" font-size="9.05" text-anchor="middle">(p110βi)</text>
<line x1="258.38" y1="640.738" x2="258.38" y2="665.4" stroke="#000" stroke-width="1.4"/>
<line x1="253.94" y1="640.738" x2="262.82" y2="640.738" stroke="#000" stroke-width="1.4"/>
<rect x="250.98000000000002" y="665.4" width="14.800000000000011" height="115.60000000000002" fill="#fff" stroke="#000" stroke-width="1.4" />
<line x1="273.43000000000006" y1="725.128" x2="273.43000000000006" y2="745.498" stroke="#000" stroke-width="1.4"/>
<line x1="268.84000000000003" y1="725.128" x2="278.0200000000001" y2="725.128" stroke="#000" stroke-width="1.4"/>
<rect x="265.08000000000004" y="744.798" width="16.70000000000001" height="36.201999999999956" fill="#000" />
<line x1="265.78000000000003" y1="781.0" x2="265.78000000000003" y2="786.0" stroke="#000" stroke-width="1.4"/>
<text x="261.78" y="692.4" font-size="9.9" text-anchor="middle" transform="rotate(-90 261.78 692.4)">194</text>
<path d="M258.84000000000003 609.2V596.5H274.94000000000005V609.2" fill="none" stroke="#000" stroke-width="1.4"/>
<text x="258.24" y="623.3" font-size="12" text-anchor="middle" font-weight="bold">-</text>
<text x="274.14000000000004" y="623.2" font-size="9.5" text-anchor="middle" font-weight="bold">+</text>
<text x="266.64000000000004" y="590.12" font-size="7" text-anchor="middle" font-family="'DejaVu Sans', sans-serif" textLength="5.8" lengthAdjust="spacing">★</text>
<text x="266.08000000000004" y="568.7" font-size="9.2" text-anchor="middle">MK2206</text>
<text x="266.08000000000004" y="581.3" font-size="9.05" text-anchor="middle">(AKTi)</text>
<line x1="303.20000000000005" y1="637.828" x2="303.20000000000005" y2="665.4" stroke="#000" stroke-width="1.4"/>
<line x1="298.76000000000005" y1="637.828" x2="307.64000000000004" y2="637.828" stroke="#000" stroke-width="1.4"/>
<rect x="295.8" y="665.4" width="14.800000000000011" height="115.60000000000002" fill="#fff" stroke="#000" stroke-width="1.4" />
<line x1="318.25" y1="711.16" x2="318.25" y2="723.964" stroke="#000" stroke-width="1.4"/>
<line x1="313.65999999999997" y1="711.16" x2="322.84000000000003" y2="711.16" stroke="#000" stroke-width="1.4"/>
<rect x="309.90000000000003" y="723.264" width="16.70000000000001" height="57.73599999999995" fill="#000" />
<line x1="310.6" y1="781.0" x2="310.6" y2="786.0" stroke="#000" stroke-width="1.4"/>
<text x="306.6" y="692.4" font-size="9.9" text-anchor="middle" transform="rotate(-90 306.6 692.4)">216</text>
<path d="M303.9 609.2V596.5H320.0V609.2" fill="none" stroke="#000" stroke-width="1.4"/>
<text x="303.29999999999995" y="623.3" font-size="12" text-anchor="middle" font-weight="bold">-</text>
<text x="319.2" y="623.2" font-size="9.5" text-anchor="middle" font-weight="bold">+</text>
<text x="311.7" y="590.12" font-size="7" text-anchor="middle" font-family="'DejaVu Sans', sans-serif" textLength="5.8" lengthAdjust="spacing">★</text>
<text x="310.90000000000003" y="568.7" font-size="9.2" text-anchor="middle">Rapamycin</text>
<text x="310.90000000000003" y="581.3" font-size="9.05" text-anchor="middle">(mTORi)</text>
<text x="9.3" y="695.3" font-size="10.65" text-anchor="middle" transform="rotate(-90 9.3 695.3)">Number of <tspan font-style="italic">IDO1</tspan> transcripts per</text>
<text x="22" y="696.2" font-size="10.65" text-anchor="middle" transform="rotate(-90 22 696.2)">4,000 <tspan font-style="italic">GAPDH</tspan> transcripts reported</text>
<text x="34.8" y="693.4" font-size="10.6" text-anchor="middle" transform="rotate(-90 34.8 693.4)">to the untreated condition (%)</text>
<text x="40" y="799.5" font-size="11.6" text-anchor="middle" font-weight="bold">WB</text>
<line x1="23" y1="804.5" x2="57" y2="804.5" stroke="#000" stroke-width="1.5"/>
<text x="24.8" y="819.1" font-size="11.5">IDO1</text>
<text x="26" y="841" font-size="11.7">Actin</text>
<text transform="translate(360.0 573.2) scale(1 1.06)" font-size="16.9" font-weight="bold" stroke-width="0">G</text>
<line x1="402.0" y1="571.8" x2="417.4" y2="571.8" stroke="#000" stroke-width="1.5"/>
<circle cx="409.7" cy="571.8" r="2.95" fill="#000"/>
<text x="422.8" y="577.3" font-size="10.7">Untreated</text>
<line x1="402.0" y1="588.7" x2="403.8" y2="588.7" stroke="#000" stroke-width="1.7"/>
<line x1="415.59999999999997" y1="588.7" x2="417.4" y2="588.7" stroke="#000" stroke-width="1.7"/>
<line x1="406.0" y1="588.7" x2="413.7" y2="588.7" stroke="#000" stroke-width="1.5"/>
<rect x="406.7" y="585.7" width="6.0" height="6.0" fill="#000"/>
<text x="422.8" y="593.8" font-size="10.7">LY294002 <tspan font-size="9.3">(panPI3Ki)</tspan></text>
<line x1="402.0" y1="605.2" x2="403.6" y2="605.2" stroke="#000" stroke-width="1.7"/>
<line x1="415.59999999999997" y1="605.2" x2="417.2" y2="605.2" stroke="#000" stroke-width="1.7"/>
<path d="M409.70 601.03L411.12 603.55L413.95 604.12L411.99 606.25L412.33 609.11L409.70 607.91L407.07 609.11L407.41 606.25L405.45 604.12L408.28 603.55Z" fill="#000"/>
<text x="422.8" y="610.9" font-size="10.7">MK2206 <tspan font-size="9.2">(AKTi)</tspan></text>
<line x1="409.1" y1="621.7" x2="409.1" y2="702.3000000000001" stroke="#000" stroke-width="1.5"/>
<line x1="408.6" y1="701.7" x2="518.6" y2="701.7" stroke="#000" stroke-width="1.5"/>
<line x1="405.1" y1="701.7" x2="409.1" y2="701.7" stroke="#000" stroke-width="1.5"/>
<text x="404.8" y="704.7600000000001" font-size="11" text-anchor="end">0</text>
<line x1="405.1" y1="685.82" x2="409.1" y2="685.82" stroke="#000" stroke-width="1.5"/>
<text x="404.8" y="688.8800000000001" font-size="11" text-anchor="end">20</text>
<line x1="405.1" y1="669.94" x2="409.1" y2="669.94" stroke="#000" stroke-width="1.5"/>
<text x="404.8" y="673.0000000000001" font-size="11" text-anchor="end">40</text>
<line x1="405.1" y1="654.0600000000001" x2="409.1" y2="654.0600000000001" stroke="#000" stroke-width="1.5"/>
<text x="404.8" y="657.1200000000001" font-size="11" text-anchor="end">60</text>
<line x1="405.1" y1="638.1800000000001" x2="409.1" y2="638.1800000000001" stroke="#000" stroke-width="1.5"/>
<text x="404.8" y="641.2400000000001" font-size="11" text-anchor="end">80</text>
<line x1="405.1" y1="622.3000000000001" x2="409.1" y2="622.3000000000001" stroke="#000" stroke-width="1.5"/>
<text x="404.8" y="625.3600000000001" font-size="11" text-anchor="end">100</text>
<line x1="409.1" y1="701.7" x2="409.1" y2="706.2" stroke="#000" stroke-width="1.5"/>
<text x="409.1" y="715.45" font-size="11" text-anchor="middle">0</text>
<line x1="423.70000000000005" y1="701.7" x2="423.70000000000005" y2="706.2" stroke="#000" stroke-width="1.5"/>
<text x="423.70000000000005" y="715.45" font-size="11" text-anchor="middle">1</text>
<line x1="438.3" y1="701.7" x2="438.3" y2="706.2" stroke="#000" stroke-width="1.5"/>
<text x="438.3" y="715.45" font-size="11" text-anchor="middle">2</text>
<line x1="452.90000000000003" y1="701.7" x2="452.90000000000003" y2="706.2" stroke="#000" stroke-width="1.5"/>
<text x="452.90000000000003" y="715.45" font-size="11" text-anchor="middle">3</text>
<line x1="467.5" y1="701.7" x2="467.5" y2="706.2" stroke="#000" stroke-width="1.5"/>
<text x="467.5" y="715.45" font-size="11" text-anchor="middle">4</text>
<line x1="482.1" y1="701.7" x2="482.1" y2="706.2" stroke="#000" stroke-width="1.5"/>
<text x="482.1" y="715.45" font-size="11" text-anchor="middle">5</text>
<line x1="496.70000000000005" y1="701.7" x2="496.70000000000005" y2="706.2" stroke="#000" stroke-width="1.5"/>
<text x="496.70000000000005" y="715.45" font-size="11" text-anchor="middle">6</text>
<line x1="511.3" y1="701.7" x2="511.3" y2="706.2" stroke="#000" stroke-width="1.5"/>
<text x="511.3" y="715.45" font-size="11" text-anchor="middle">7</text>
<path d="M409.1 638.2 L423.2 645.3 L437.2 655.6 L465.4 699.3 L479.5 699.7 L493.5 700.1 L507.6 700.1" fill="none" stroke="#000" stroke-width="1.6"/>
<circle cx="409.1" cy="638.1800000000001" r="2.95" fill="#000"/>
<circle cx="423.17" cy="645.326" r="2.95" fill="#000"/>
<circle cx="437.24" cy="655.648" r="2.95" fill="#000"/>
<circle cx="465.38" cy="699.3180000000001" r="2.95" fill="#000"/>
<circle cx="479.45000000000005" cy="699.715" r="2.95" fill="#000"/>
<circle cx="493.52000000000004" cy="700.1120000000001" r="2.95" fill="#000"/>
<circle cx="507.59000000000003" cy="700.1120000000001" r="2.95" fill="#000"/>
<path d="M409.1 638.2 L423.2 642.9 L437.2 644.5 L465.4 642.5 L479.5 645.3 L493.5 669.1 L507.6 662.8" fill="none" stroke="#000" stroke-width="1.85" stroke-dasharray="2 4"/>
<path d="M409.10 635.26L411.68 640.49L409.10 640.02L406.52 640.49Z" fill="#000" stroke="#000" stroke-width="0.6" stroke-linejoin="round"/>
<path d="M423.17 640.02L425.75 645.26L423.17 644.78L420.59 645.26Z" fill="#000" stroke="#000" stroke-width="0.6" stroke-linejoin="round"/>
<path d="M437.24 641.61L439.82 646.84L437.24 646.37L434.66 646.84Z" fill="#000" stroke="#000" stroke-width="0.6" stroke-linejoin="round"/>
<path d="M465.38 639.62L467.96 644.86L465.38 644.38L462.80 644.86Z" fill="#000" stroke="#000" stroke-width="0.6" stroke-linejoin="round"/>
<path d="M479.45 642.40L482.03 647.64L479.45 647.16L476.87 647.64Z" fill="#000" stroke="#000" stroke-width="0.6" stroke-linejoin="round"/>
<path d="M493.52 666.22L496.10 671.46L493.52 670.98L490.94 671.46Z" fill="#000" stroke="#000" stroke-width="0.6" stroke-linejoin="round"/>
<path d="M507.59 659.87L510.17 665.11L507.59 664.63L505.01 665.11Z" fill="#000" stroke="#000" stroke-width="0.6" stroke-linejoin="round"/>
<path d="M409.1 638.2 L423.2 642.2 L437.2 645.3 L465.4 644.5 L479.5 646.1 L493.5 644.5 L507.6 645.3" fill="none" stroke="#000" stroke-width="1.85" stroke-dasharray="2.6 3.4"/>
<rect x="406.1" y="635.1800000000001" width="6.0" height="6.0" fill="#000"/>
<rect x="420.17" y="639.1500000000001" width="6.0" height="6.0" fill="#000"/>
<rect x="434.24" y="642.326" width="6.0" height="6.0" fill="#000"/>
<rect x="462.38" y="641.532" width="6.0" height="6.0" fill="#000"/>
<rect x="476.45000000000005" y="643.12" width="6.0" height="6.0" fill="#000"/>
<rect x="490.52000000000004" y="641.532" width="6.0" height="6.0" fill="#000"/>
<rect x="504.59000000000003" y="642.326" width="6.0" height="6.0" fill="#000"/>
<line x1="409.8" y1="733.32" x2="409.8" y2="810.2" stroke="#000" stroke-width="1.5"/>
<line x1="409.3" y1="809.6" x2="518.3" y2="809.6" stroke="#000" stroke-width="1.5"/>
<line x1="405.8" y1="809.6" x2="409.8" y2="809.6" stroke="#000" stroke-width="1.5"/>
<text x="405.5" y="812.6600000000001" font-size="11" text-anchor="end">0</text>
<line x1="405.8" y1="790.6800000000001" x2="409.8" y2="790.6800000000001" stroke="#000" stroke-width="1.5"/>
<text x="405.5" y="793.7400000000001" font-size="11" text-anchor="end">20</text>
<line x1="405.8" y1="771.76" x2="409.8" y2="771.76" stroke="#000" stroke-width="1.5"/>
<text x="405.5" y="774.82" font-size="11" text-anchor="end">40</text>
<line x1="405.8" y1="752.84" x2="409.8" y2="752.84" stroke="#000" stroke-width="1.5"/>
<text x="405.5" y="755.9000000000001" font-size="11" text-anchor="end">60</text>
<line x1="405.8" y1="733.9200000000001" x2="409.8" y2="733.9200000000001" stroke="#000" stroke-width="1.5"/>
<text x="405.5" y="736.9800000000001" font-size="11" text-anchor="end">80</text>
<line x1="409.8" y1="809.6" x2="409.8" y2="814.1" stroke="#000" stroke-width="1.5"/>
<text x="409.8" y="823.35" font-size="11" text-anchor="middle">0</text>
<line x1="424.2" y1="809.6" x2="424.2" y2="814.1" stroke="#000" stroke-width="1.5"/>
<text x="424.2" y="823.35" font-size="11" text-anchor="middle">1</text>
<line x1="438.6" y1="809.6" x2="438.6" y2="814.1" stroke="#000" stroke-width="1.5"/>
<text x="438.6" y="823.35" font-size="11" text-anchor="middle">2</text>
<line x1="453.0" y1="809.6" x2="453.0" y2="814.1" stroke="#000" stroke-width="1.5"/>
<text x="453.0" y="823.35" font-size="11" text-anchor="middle">3</text>
<line x1="467.40000000000003" y1="809.6" x2="467.40000000000003" y2="814.1" stroke="#000" stroke-width="1.5"/>
<text x="467.40000000000003" y="823.35" font-size="11" text-anchor="middle">4</text>
<line x1="481.8" y1="809.6" x2="481.8" y2="814.1" stroke="#000" stroke-width="1.5"/>
<text x="481.8" y="823.35" font-size="11" text-anchor="middle">5</text>
<line x1="496.20000000000005" y1="809.6" x2="496.20000000000005" y2="814.1" stroke="#000" stroke-width="1.5"/>
<text x="496.20000000000005" y="823.35" font-size="11" text-anchor="middle">6</text>
<line x1="510.6" y1="809.6" x2="510.6" y2="814.1" stroke="#000" stroke-width="1.5"/>
<text x="510.6" y="823.35" font-size="11" text-anchor="middle">7</text>
<path d="M409.8 809.6 L424.2 807.2 L438.6 801.6 L467.4 751.9 L481.8 746.2 L496.2 742.4 L510.6 741.5" fill="none" stroke="#000" stroke-width="1.6"/>
<circle cx="409.8" cy="809.6" r="2.95" fill="#000"/>
<circle cx="424.2" cy="807.235" r="2.95" fill="#000"/>
<circle cx="438.6" cy="801.559" r="2.95" fill="#000"/>
<circle cx="467.40000000000003" cy="751.894" r="2.95" fill="#000"/>
<circle cx="481.8" cy="746.2180000000001" r="2.95" fill="#000"/>
<circle cx="496.20000000000005" cy="742.434" r="2.95" fill="#000"/>
<circle cx="510.6" cy="741.488" r="2.95" fill="#000"/>
<path d="M409.8 809.6 L424.2 809.1 L438.6 809.1 L467.4 809.1 L481.8 809.1 L496.2 785.0 L510.6 792.6" fill="none" stroke="#000" stroke-width="1.85" stroke-dasharray="2 4"/>
<path d="M409.80 806.68L412.38 811.91L409.80 811.44L407.22 811.91Z" fill="#000" stroke="#000" stroke-width="0.6" stroke-linejoin="round"/>
<path d="M424.20 806.20L426.78 811.44L424.20 810.96L421.62 811.44Z" fill="#000" stroke="#000" stroke-width="0.6" stroke-linejoin="round"/>
<path d="M438.60 806.20L441.18 811.44L438.60 810.96L436.02 811.44Z" fill="#000" stroke="#000" stroke-width="0.6" stroke-linejoin="round"/>
<path d="M467.40 806.20L469.98 811.44L467.40 810.96L464.82 811.44Z" fill="#000" stroke="#000" stroke-width="0.6" stroke-linejoin="round"/>
<path d="M481.80 806.20L484.38 811.44L481.80 810.96L479.22 811.44Z" fill="#000" stroke="#000" stroke-width="0.6" stroke-linejoin="round"/>
<path d="M496.20 782.08L498.78 787.32L496.20 786.84L493.62 787.32Z" fill="#000" stroke="#000" stroke-width="0.6" stroke-linejoin="round"/>
<path d="M510.60 789.65L513.18 794.88L510.60 794.41L508.02 794.88Z" fill="#000" stroke="#000" stroke-width="0.6" stroke-linejoin="round"/>
<path d="M409.8 809.6 L424.2 809.1 L438.6 809.1 L467.4 809.1 L481.8 809.1 L496.2 809.1 L510.6 809.1" fill="none" stroke="#000" stroke-width="1.85" stroke-dasharray="2.6 3.4"/>
<rect x="406.8" y="806.6" width="6.0" height="6.0" fill="#000"/>
<rect x="421.2" y="806.1270000000001" width="6.0" height="6.0" fill="#000"/>
<rect x="435.6" y="806.1270000000001" width="6.0" height="6.0" fill="#000"/>
<rect x="464.40000000000003" y="806.1270000000001" width="6.0" height="6.0" fill="#000"/>
<rect x="478.8" y="806.1270000000001" width="6.0" height="6.0" fill="#000"/>
<rect x="493.20000000000005" y="806.1270000000001" width="6.0" height="6.0" fill="#000"/>
<rect x="507.6" y="806.1270000000001" width="6.0" height="6.0" fill="#000"/>
<text x="463.4" y="836.2" font-size="11.8" text-anchor="middle">Time (days)</text>
<text x="370.0" y="657.5" font-size="11" text-anchor="middle" transform="rotate(-90 370.0 657.5)">Tryptophan</text>
<text x="381.9" y="657.1" font-size="10.75" text-anchor="middle" transform="rotate(-90 381.9 657.1)">concentration (µmol/L)</text>
<text x="369.3" y="772.5" font-size="10.7" text-anchor="middle" transform="rotate(-90 369.3 772.5)">Kynurenine</text>
<text x="382.2" y="773.3" font-size="10.7" text-anchor="middle" transform="rotate(-90 382.2 773.3)">concentration (µmol/L)</text>
</g>
</svg>
</body></html>
